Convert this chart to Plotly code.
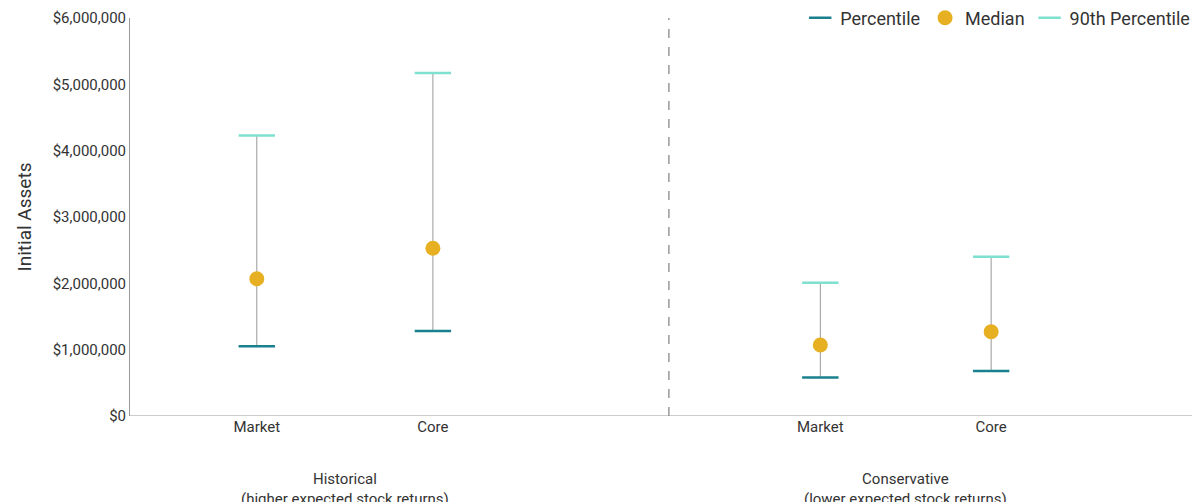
import plotly.graph_objects as go

categories = ["Market", "Core", "Market", "Core"]
groups = ["Historical<br>(higher expected stock returns)", "Conservative<br>(lower expected stock returns)"]
p10 = [1050000, 1280000, 580000, 680000]
median = [2070000, 2530000, 1070000, 1270000]
p90 = [4230000, 5170000, 2010000, 2400000]

xpos = [0.72, 1.72, 3.92, 4.89]
font = "Liberation Sans Narrow, Roboto, sans-serif"

fig = go.Figure()
# gray whiskers
for x, lo, hi in zip(xpos, p10, p90):
    fig.add_trace(go.Scatter(x=[x, x], y=[lo, hi], mode="lines",
                             line=dict(color="#999999", width=1), showlegend=False, hoverinfo="skip"))
fig.add_trace(go.Scatter(x=xpos, y=p10, mode="markers", name="Percentile",
                         marker=dict(symbol="line-ew", size=26, line=dict(color="#1a7f8e", width=2.5))))
fig.add_trace(go.Scatter(x=xpos, y=median, mode="markers", name="Median",
                         marker=dict(symbol="circle", size=15, color="#e6b022")))
fig.add_trace(go.Scatter(x=xpos, y=p90, mode="markers", name="90th Percentile",
                         marker=dict(symbol="line-ew", size=26, line=dict(color="#7fe0d0", width=2.5))))

fig.add_shape(type="line", x0=3.06, x1=3.06, y0=0, y1=1, yref="paper",
              line=dict(color="#999999", width=1.5, dash="dash"))

for gx, g in zip([(xpos[0] + xpos[1]) / 2, (xpos[2] + xpos[3]) / 2], groups):
    fig.add_annotation(x=gx, y=-0.13, yref="paper", text=g, showarrow=False,
                       yanchor="top", font=dict(size=15, color="#333333"))

fig.update_layout(
    width=1200, height=502, plot_bgcolor="white", paper_bgcolor="white",
    margin=dict(l=122, r=2, t=10, b=94, autoexpand=False),
    font=dict(family=font, size=15, color="#333333"),
    legend=dict(orientation="h", x=0.99, xanchor="right", y=1.0, yanchor="middle",
                font=dict(size=18), bgcolor="rgba(0,0,0,0)"),
    xaxis=dict(range=[0, 6.11], tickvals=xpos, ticktext=categories, showgrid=False,
               zeroline=False, showline=False, ticks=""),
    yaxis=dict(range=[0, 6000000], tickvals=[0, 1e6, 2e6, 3e6, 4e6, 5e6, 6e6],
               tickformat="$,.0f", showgrid=False, zeroline=False,
               showline=True, linecolor="#999999", mirror=False,
               title=dict(text="Initial Assets", font=dict(size=19))),
)
fig.add_shape(type="line", x0=0, x1=1, xref="paper", y0=0, y1=0, line=dict(color="#999999", width=1))

fig.write_html("out.html")
